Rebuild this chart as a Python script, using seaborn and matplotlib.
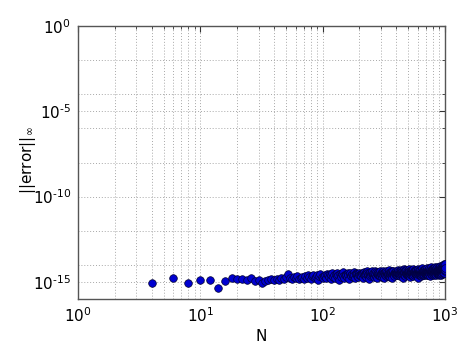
import numpy as np
import pandas as pd
import matplotlib
matplotlib.use("Agg")
import matplotlib.pyplot as plt
import matplotlib.ticker as mticker
import seaborn as sns

# Sample sizes (even N from 4 to 1000)
N = list(range(4, 1001, 2))

# Infinity-norm error, in units of 1e-15
ERR_E15 = [
    # N = 4..20
    0.89, 1.78, 0.89, 1.33, 1.33, 0.44, 1.11, 1.78, 1.55,
    # N = 22..40
    1.55, 1.33, 1.78, 1.11, 1.33, 0.89, 1.11, 1.33, 1.55, 1.33,
    # N = 42..64
    1.55, 1.33, 1.78, 1.55, 2.0, 3.11, 1.78, 1.55, 2.0, 1.78, 2.22, 1.55,
    # N = 66..100
    1.78, 2.0, 1.55, 2.22, 1.78, 2.44, 2.0, 1.55, 2.22, 2.66,
    1.78, 2.0, 2.44, 1.33, 2.22, 2.89, 2.0, 1.78,
    # N = 102..200
    2.22, 2.66, 1.78, 3.11, 2.44, 2.0, 2.89, 1.55, 2.66, 3.33,
    2.0, 2.44, 1.78, 2.89, 3.55, 2.22, 2.66, 1.33, 3.11, 2.44,
    2.0, 2.89, 3.77, 2.22, 1.78, 2.66, 3.11, 2.44, 2.0, 3.33,
    2.66, 1.55, 2.89, 3.55, 2.44, 2.22, 3.11, 2.0, 2.66, 4.0,
    2.44, 1.78, 3.33, 2.89, 2.22, 3.11, 2.66, 2.0, 3.55, 2.44,
    # N = 202..400
    2.66, 3.11, 2.22, 3.55, 2.89, 1.78, 3.33, 4.0, 2.44, 3.11,
    2.66, 3.77, 2.0, 2.89, 4.44, 3.33, 2.44, 3.11, 1.55, 3.55,
    2.89, 2.22, 4.0, 3.33, 2.66, 3.11, 4.22, 2.44, 2.89, 3.55,
    2.0, 3.33, 2.66, 4.44, 3.11, 2.22, 3.77, 2.89, 1.78, 3.33,
    2.66, 4.0, 3.11, 2.44, 3.55, 2.89, 4.66, 2.22, 3.33, 2.66,
    3.11, 2.0, 3.77, 2.89, 4.22, 3.33, 2.44, 3.11, 1.78, 3.55,
    2.89, 4.0, 2.66, 3.33, 2.22, 4.44, 3.11, 2.66, 3.77, 2.44,
    3.33, 2.89, 5.11, 2.22, 3.55, 3.11, 2.0, 4.0, 2.89, 3.33,
    2.66, 3.77, 2.44, 4.22, 3.11, 1.78, 3.55, 2.89, 4.66, 3.33,
    2.66, 3.11, 2.22, 4.0, 3.55, 2.89, 2.44, 4.44, 3.33, 3.11,
    # N = 402..700
    3.11, 4.0, 2.66, 3.55, 4.66, 2.89, 3.33, 5.33, 2.44, 3.77,
    4.22, 3.11, 2.22, 4.44, 3.55, 2.89, 5.11, 3.33, 2.66, 4.0,
    3.77, 2.44, 4.66, 3.11, 1.78, 3.55, 4.22, 2.89, 5.55, 3.33,
    4.0, 2.66, 3.77, 4.89, 3.11, 2.22, 4.44, 3.55, 2.89, 4.0,
    3.33, 5.33, 2.66, 3.77, 4.22, 3.11, 2.44, 4.66, 3.55, 2.89,
    4.0, 3.33, 5.78, 2.66, 3.77, 4.44, 3.11, 2.0, 4.22, 3.55,
    2.89, 4.89, 3.33, 2.44, 4.0, 3.77, 5.11, 3.11, 2.66, 4.44,
    3.55, 2.89, 4.22, 6.0, 3.33, 2.22, 4.0, 3.77, 3.11, 4.66,
    2.66, 3.55, 5.33, 2.89, 4.22, 3.33, 2.44, 4.44, 3.77, 3.11,
    5.11, 2.89, 4.0, 3.55, 2.66, 4.66, 3.33, 1.78, 4.22, 3.77,
    3.11, 5.55, 2.89, 4.0, 3.33, 2.44, 4.44, 3.55, 4.89, 3.11,
    2.66, 4.22, 3.77, 2.89, 5.33, 3.33, 4.0, 2.22, 3.55, 4.66,
    3.11, 2.89, 4.44, 3.77, 6.22, 3.33, 2.66, 4.0, 3.55, 4.89,
    2.44, 3.11, 4.22, 3.77, 2.89, 5.11, 3.33, 4.44, 2.66, 3.55,
    4.0, 3.11, 5.78, 2.89, 4.22, 3.33, 2.44, 4.66, 3.77, 3.11,
    # N = 702..1000
    3.55, 4.44, 2.89, 5.33, 3.77, 4.0, 6.22, 3.11, 4.66, 2.66,
    4.22, 5.11, 3.33, 4.89, 2.44, 4.0, 5.78, 3.55, 4.44, 3.11,
    6.66, 3.77, 2.89, 4.22, 5.33, 3.33, 4.66, 2.22, 4.0, 5.55,
    3.55, 4.44, 7.11, 3.11, 4.22, 2.89, 5.11, 3.77, 4.66, 6.0,
    3.33, 4.0, 2.66, 5.33, 4.44, 3.55, 6.44, 3.11, 4.22, 4.89,
    2.89, 5.78, 3.77, 4.44, 3.33, 6.22, 4.0, 2.44, 5.11, 3.55,
    4.66, 7.55, 3.11, 4.22, 5.33, 3.77, 2.89, 4.89, 6.0, 3.33,
    4.44, 3.55, 5.55, 4.0, 2.66, 6.66, 3.77, 4.22, 5.11, 3.11,
    4.89, 8.0, 3.55, 4.44, 2.89, 5.78, 4.0, 3.33, 6.22, 4.66,
    3.77, 5.33, 2.44, 4.22, 7.11, 3.55, 4.89, 3.11, 5.55, 4.0,
    6.44, 3.33, 4.66, 2.89, 5.11, 8.44, 3.77, 4.22, 6.0, 3.55,
    4.44, 2.66, 5.78, 4.0, 7.55, 3.33, 4.89, 5.33, 3.11, 6.66,
    4.22, 8.88, 3.77, 4.66, 2.89, 5.55, 6.22, 4.0, 3.55, 7.11,
    4.44, 5.11, 9.77, 3.33, 4.89, 6.44, 4.22, 3.77, 8.0, 5.33,
    4.66, 6.88, 3.55, 10.7, 5.11, 4.22, 7.55, 4.89, 11.5, 6.22,
]

XLIM = (1, 1000)
YLIM = (1e-16, 1)
XMAJOR = [1, 10, 100, 1000]
XTICKLABELS = [r"$10^{0}$", r"$10^{1}$", r"$10^{2}$", r"$10^{3}$"]
YMAJOR = [1e0, 1e-5, 1e-10, 1e-15]
YTICKLABELS = [r"$10^{0}$", r"$10^{\text{-}5}$", r"$10^{\text{-}10}$", r"$10^{\text{-}15}$"]
YMINOR = [1e-2, 1e-4, 1e-6, 1e-8, 1e-12, 1e-14]

n = min(len(N), len(ERR_E15))
df = pd.DataFrame({"N": N[:n], "err": [v * 1e-15 for v in ERR_E15[:n]]})

sns.set_style("white")
plt.rcParams["font.family"] = ["DejaVu Sans"]
plt.rcParams["mathtext.fontset"] = "custom"
plt.rcParams["mathtext.rm"] = "DejaVu Sans"
plt.rcParams["mathtext.it"] = "DejaVu Sans"
plt.rcParams["mathtext.default"] = "regular"
plt.rcParams["text.color"] = "black"
plt.rcParams["axes.labelcolor"] = "black"
plt.rcParams["xtick.color"] = "black"
plt.rcParams["ytick.color"] = "black"

fig = plt.figure(figsize=(4.74, 3.55), dpi=100)
ax = fig.add_axes([78 / 474, 1 - 299 / 355, (445 - 78) / 474, (299 - 26) / 355])

sns.scatterplot(data=df, x="N", y="err", ax=ax, color="#0000d0",
                edgecolor="#000030", linewidth=0.5, s=30, zorder=3, legend=False)

ax.set_xscale("log")
ax.set_yscale("log")
ax.set_xlim(*XLIM)
ax.set_ylim(*YLIM)

ax.xaxis.set_major_locator(mticker.FixedLocator(XMAJOR))
ax.xaxis.set_major_formatter(mticker.FixedFormatter(XTICKLABELS))
ax.xaxis.set_minor_locator(mticker.LogLocator(base=10, subs=np.arange(2, 10), numticks=20))
ax.xaxis.set_minor_formatter(mticker.NullFormatter())
ax.yaxis.set_major_locator(mticker.FixedLocator(YMAJOR))
ax.yaxis.set_major_formatter(mticker.FixedFormatter(YTICKLABELS))
ax.yaxis.set_minor_locator(mticker.FixedLocator(YMINOR))
ax.yaxis.set_minor_formatter(mticker.NullFormatter())

ax.grid(True, which="both", linestyle=(0, (1, 2)), color="#a8a8a8", linewidth=0.7)
ax.set_axisbelow(True)

for sp in ax.spines.values():
    sp.set_color("#555555")
    sp.set_linewidth(1.0)

ax.tick_params(which="major", direction="in", length=4, width=0.8, color="#333333",
               top=True, right=True, labelsize=11, pad=5, labelcolor="black")
ax.tick_params(which="minor", direction="in", length=2, width=0.6, color="#333333",
               top=True, right=True)

ax.set_xlabel("N", fontsize=11, labelpad=3, color="black")
ax.set_ylabel(r"$||\mathrm{error}||_\infty$", fontsize=11, color="black")
ax.yaxis.set_label_coords(-0.11, 0.51)

fig.savefig("out.png", dpi=100, facecolor="white")
